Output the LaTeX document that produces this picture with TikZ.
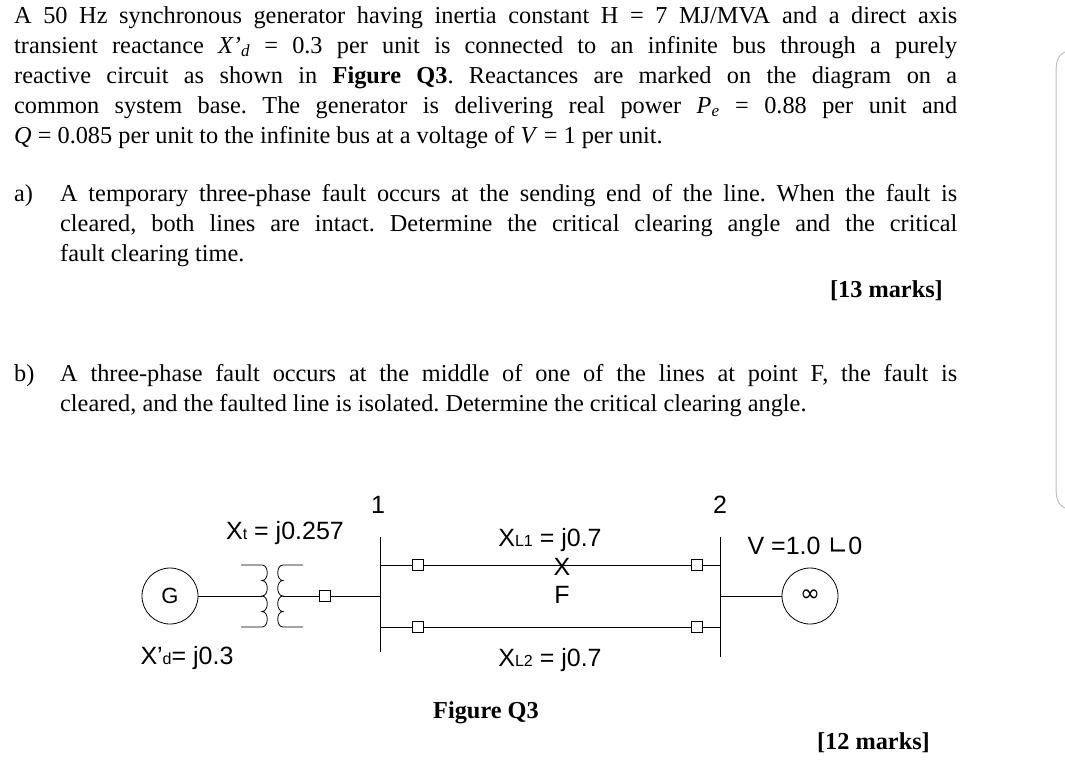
\documentclass[tikz,border=0pt]{standalone}
\usepackage{fontspec}
\setmainfont{Liberation Serif}
\newfontfamily\arial{Liberation Sans}
\newfontfamily\dejavu{DejaVu Sans}
\frenchspacing
\begin{document}
\begin{tikzpicture}[x=1pt,y=-1pt,
  para/.style={anchor=north west,inner sep=0pt,align=justify,font=\fontsize{24.3}{30}\selectfont},
  lbl/.style={inner sep=0pt,font=\arial\fontsize{25}{28}\selectfont},
  wire/.style={line width=0.8pt},
  brk/.style={draw,fill=white,minimum size=11pt,inner sep=0pt,line width=0.8pt},
  mach/.style={draw,circle,minimum size=56pt,inner sep=0pt,line width=0.8pt,font=\arial\fontsize{22}{22}\selectfont}]
\useasboundingbox (0,0) rectangle (1065,780);
\newcommand{\sbs}[1]{{\fontsize{16}{16}\selectfont #1}}
% text
\node[para,text width=943pt] (p0) at (14,6) {A 50 Hz synchronous generator having inertia constant H = 7 MJ/MVA and a direct axis\linebreak transient reactance \textit{X’}\textsubscript{\textit{d}} = 0.3 per unit is connected to an infinite bus through a purely\linebreak reactive circuit as shown in \textbf{Figure Q3}. Reactances are marked on the diagram on a\linebreak common system base. The generator is delivering real power \textit{P}\textsubscript{\textit{e}} = 0.88 per unit and\linebreak \textit{Q} = 0.085 per unit to the infinite bus at a voltage of \textit{V} = 1 per unit.};
\node[para] (la) at (14,184) {a)};
\node[para,text width=897pt] (pa) at (60,184) {A temporary three-phase fault occurs at the sending end of the line. When the fault is\linebreak cleared, both lines are intact. Determine the critical clearing angle and the critical\linebreak fault clearing time.};
\node[para,anchor=east] (ma) at (943,291) {\textbf{[13 marks]}};
\node[para] (lb) at (14,364) {b)};
\node[para,text width=897pt] (pb) at (60,364) {A three-phase fault occurs at the middle of one of the lines at point F, the fault is\linebreak cleared, and the faulted line is isolated. Determine the critical clearing angle.};
\node[para,anchor=center] (fig) at (486,713) {\textbf{Figure Q3}};
\node[para,anchor=east] (mb) at (930,743) {\textbf{[12 marks]}};
% circuit
\node[mach] (G) at (170,596) {G};
\node[mach] (inf) at (810,596) {\dejavu\fontsize{24}{24}\selectfont ∞};
\coordinate (b1t) at (380,537); \coordinate (b1b) at (380,652);
\coordinate (b2t) at (720,537); \coordinate (b2b) at (720,657);
\draw[wire] (b1t) -- (b1b);
\draw[wire] (b2t) -- (b2b);
% transformer
\coordinate (tp) at (262,596); \coordinate (ts) at (283,596);
\draw[wire] (G) -- (tp);
\draw[wire] (241,565) -- (262,565)
  .. controls +(7,0) and +(7,0) .. ++(0,15.5)
  .. controls +(7,0) and +(7,0) .. ++(0,15.5)
  .. controls +(7,0) and +(7,0) .. ++(0,15.5)
  .. controls +(7,0) and +(7,0) .. ++(0,15.5)
  -- (241,627);
\draw[wire] (303,565) -- (283,565)
  .. controls +(-7,0) and +(-7,0) .. ++(0,15.5)
  .. controls +(-7,0) and +(-7,0) .. ++(0,15.5)
  .. controls +(-7,0) and +(-7,0) .. ++(0,15.5)
  .. controls +(-7,0) and +(-7,0) .. ++(0,15.5)
  -- (303,627);
\node[brk] (cb0) at (325,596) {};
\draw[wire] (ts) -- (cb0) -- (380,596);
% lines
\node[brk] (cb1) at (418,565) {};
\node[brk] (cb2) at (697,565) {};
\node[brk] (cb3) at (418,627) {};
\node[brk] (cb4) at (697,627) {};
\draw[wire] (380,565) -- (cb1) -- (cb2) -- (720,565);
\draw[wire] (380,627) -- (cb3) -- (cb4) -- (720,627);
\draw[wire] (720,596) -- (inf);
% labels
\node[lbl] (n1) at (378,505) {1};
\node[lbl] (n2) at (720,505) {2};
\node[lbl] (xt) at (285,533) {X\sbs{t} = j0.257};
\node[lbl] (xl1) at (550,540) {X\sbs{L1} = j0.7};
\node[lbl] (xf) at (562,567) {X};
\node[lbl] (f) at (562,595) {F};
\node[lbl] (xl2) at (550,660) {X\sbs{L2} = j0.7};
\node[lbl] (v) at (805,546) {V =1.0 {\dejavu ∟}0};
\node[lbl] (xd) at (187,658) {X’\sbs{d}= j0.3};
% side bracket
\draw[gray!50,line width=1pt] (1065,52) .. controls (1057,56) and (1056,62) .. (1056,75) -- (1056,485) .. controls (1056,498) and (1057,504) .. (1065,508);
\end{tikzpicture}
\end{document}
